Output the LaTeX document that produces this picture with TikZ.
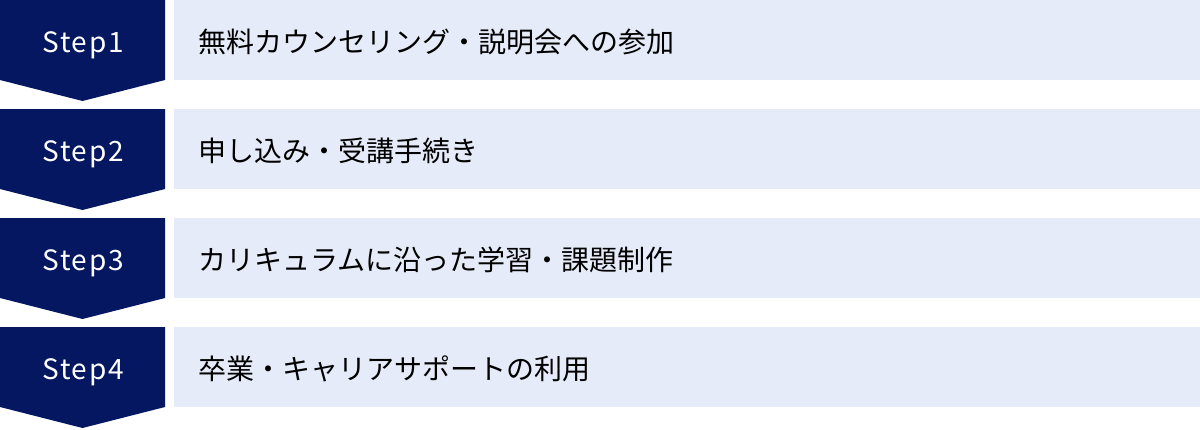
\documentclass[tikz,border=0pt]{standalone}
\usepackage{fontspec}
\setmainfont{Noto Sans CJK JP}
\newfontfamily\jpfont{Noto Sans CJK JP}
\newfontfamily\stepfont[LetterSpace=6]{Noto Sans CJK JP}
\definecolor{navy}{HTML}{041760}
\definecolor{lightbox}{HTML}{E5EBF8}
\tikzset{
  stepshape/.style={fill=navy, draw=none},
  steplabel/.style={text=white, font=\stepfont\fontsize{28}{32}\selectfont, anchor=base, inner sep=0pt},
  descbox/.style={fill=lightbox, draw=none, minimum width=1026pt, minimum height=80pt, anchor=north west, inner sep=0pt},
  desclabel/.style={text=black, font=\jpfont\fontsize{28}{32}\selectfont, anchor=west, inner sep=0pt}
}
\begin{document}
\begin{tikzpicture}[x=1pt,y=-1pt]
\useasboundingbox (0,0) rectangle (1200,429);
\foreach \i/\txt in {0/無料カウンセリング・説明会への参加,1/申し込み・受講手続き,2/カリキュラムに沿った学習・課題制作,3/卒業・キャリアサポートの利用}{
  \pgfmathsetmacro{\y}{\i*109}
  \pgfmathtruncatemacro{\n}{\i+1}
  \fill[stepshape] (0,\y) -- (165,\y) -- (165,\y+80) -- (82.5,\y+101) -- (0,\y+80) -- cycle;
  \node[steplabel] (s\n) at (83,\y+52) {Step\n};
  \node[descbox] (b\n) at (174,\y) {};
  \node[desclabel] (t\n) at (198,\y+42) {\txt};
}
\end{tikzpicture}
\end{document}
